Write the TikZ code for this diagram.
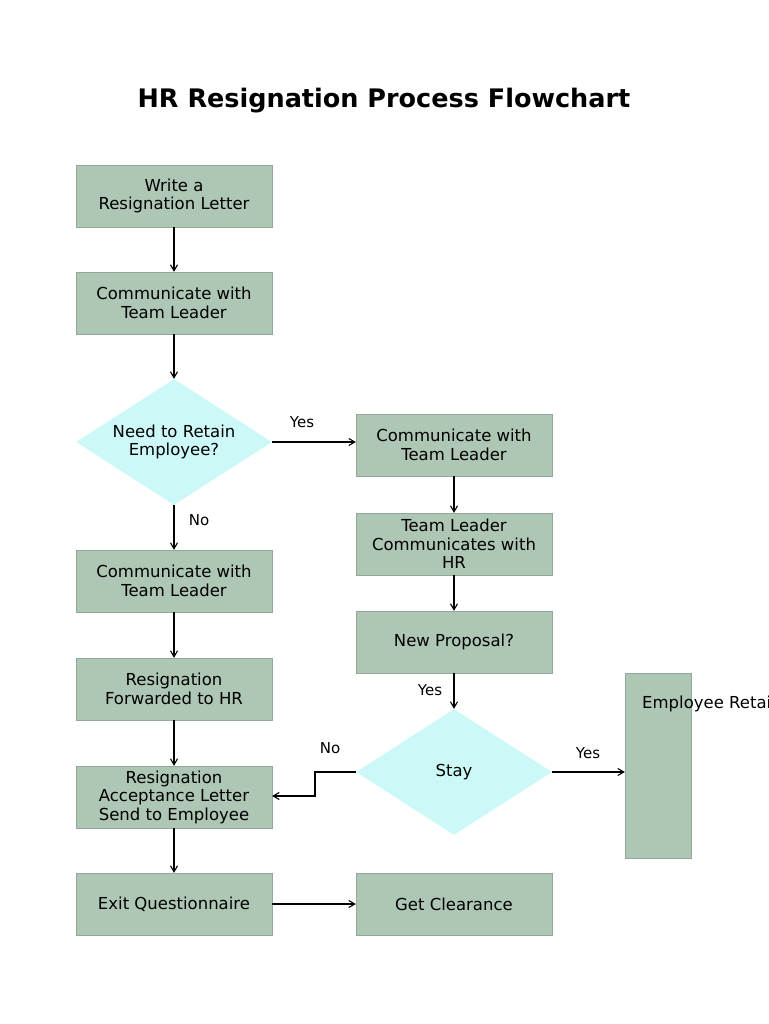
\documentclass[tikz,border=0pt]{standalone}
\usepackage{fontspec}
\setmainfont{DejaVu Sans}
\usetikzlibrary{shapes.geometric,arrows.meta}
\definecolor{boxc}{HTML}{AEC6B4}
\definecolor{diac}{HTML}{CCF9F8}
\begin{document}
\begin{tikzpicture}[x=1pt,y=-1pt,
  box/.style={fill=boxc,draw=boxc!85!black,line width=0.3pt,minimum width=196pt,minimum height=62pt,align=center,inner sep=2pt,font=\fontsize{16.5}{18.5}\selectfont},
  dia/.style={diamond,aspect=1.556,fill=diac,inner sep=0pt,minimum width=196pt,minimum height=126pt,align=center,font=\fontsize{16.5}{18.5}\selectfont},
  arr/.style={-{Straight Barb[length=6pt,width=7pt]},line width=1.1pt},
  lab/.style={font=\fontsize{15}{17}\selectfont}]
\useasboundingbox (0,0) rectangle (768,1024);
\clip (0,0) rectangle (768,1024);
\node[font=\fontsize{25.5}{29}\selectfont\bfseries] (title) at (384,101) {HR Resignation Process Flowchart};
\node[box] (b1) at (174,196) {Write a\\Resignation Letter};
\node[box] (b2) at (174,303) {Communicate with\\Team Leader};
\node[dia] (d1) at (174,442) {Need to Retain\\Employee?};
\node[box] (b3) at (174,581) {Communicate with\\Team Leader};
\node[box] (b4) at (174,689) {Resignation\\Forwarded to HR};
\node[box] (b5) at (174,797) {Resignation\\Acceptance Letter\\Send to Employee};
\node[box] (b6) at (174,904) {Exit Questionnaire};
\node[box] (r1) at (454,445) {Communicate with\\Team Leader};
\node[box] (r2) at (454,544) {Team Leader\\Communicates with\\HR};
\node[box] (r3) at (454,642) {New Proposal?};
\node[dia] (d2) at (454,772) {Stay};
\node[box] (r4) at (454,904) {Get Clearance};
\node[fill=boxc,draw=boxc!85!black,line width=0.3pt,minimum width=66pt,minimum height=185pt,inner sep=0pt] (emp) at (658,765.5) {};
\node[anchor=west,inner sep=0pt,font=\fontsize{16.5}{18.5}\selectfont] (empt) at (642,704) {Employee Retained};
\draw[arr] (b1) -- (b2);
\draw[arr] (b2) -- (d1);
\draw[arr] (d1) -- (b3);
\draw[arr] (b3) -- (b4);
\draw[arr] (b4) -- (b5);
\draw[arr] (b5) -- (b6);
\draw[arr] (d1.east) -- (r1.west |- d1.east);
\draw[arr] (r1) -- (r2);
\draw[arr] (r2) -- (r3);
\draw[arr] (r3) -- (d2);
\draw[arr] (d2.west) -- (315,772) -- (315,796) -- (b5.east |- 0,796);
\draw[arr] (d2.east) -- (emp.west |- d2.east);
\draw[arr] (b6) -- (r4);
\node[lab] (l1) at (302,422) {Yes};
\node[lab] (l2) at (199,520) {No};
\node[lab] (l3) at (430,690) {Yes};
\node[lab] (l4) at (330,748) {No};
\node[lab] (l5) at (588,753) {Yes};
\end{tikzpicture}
\end{document}
